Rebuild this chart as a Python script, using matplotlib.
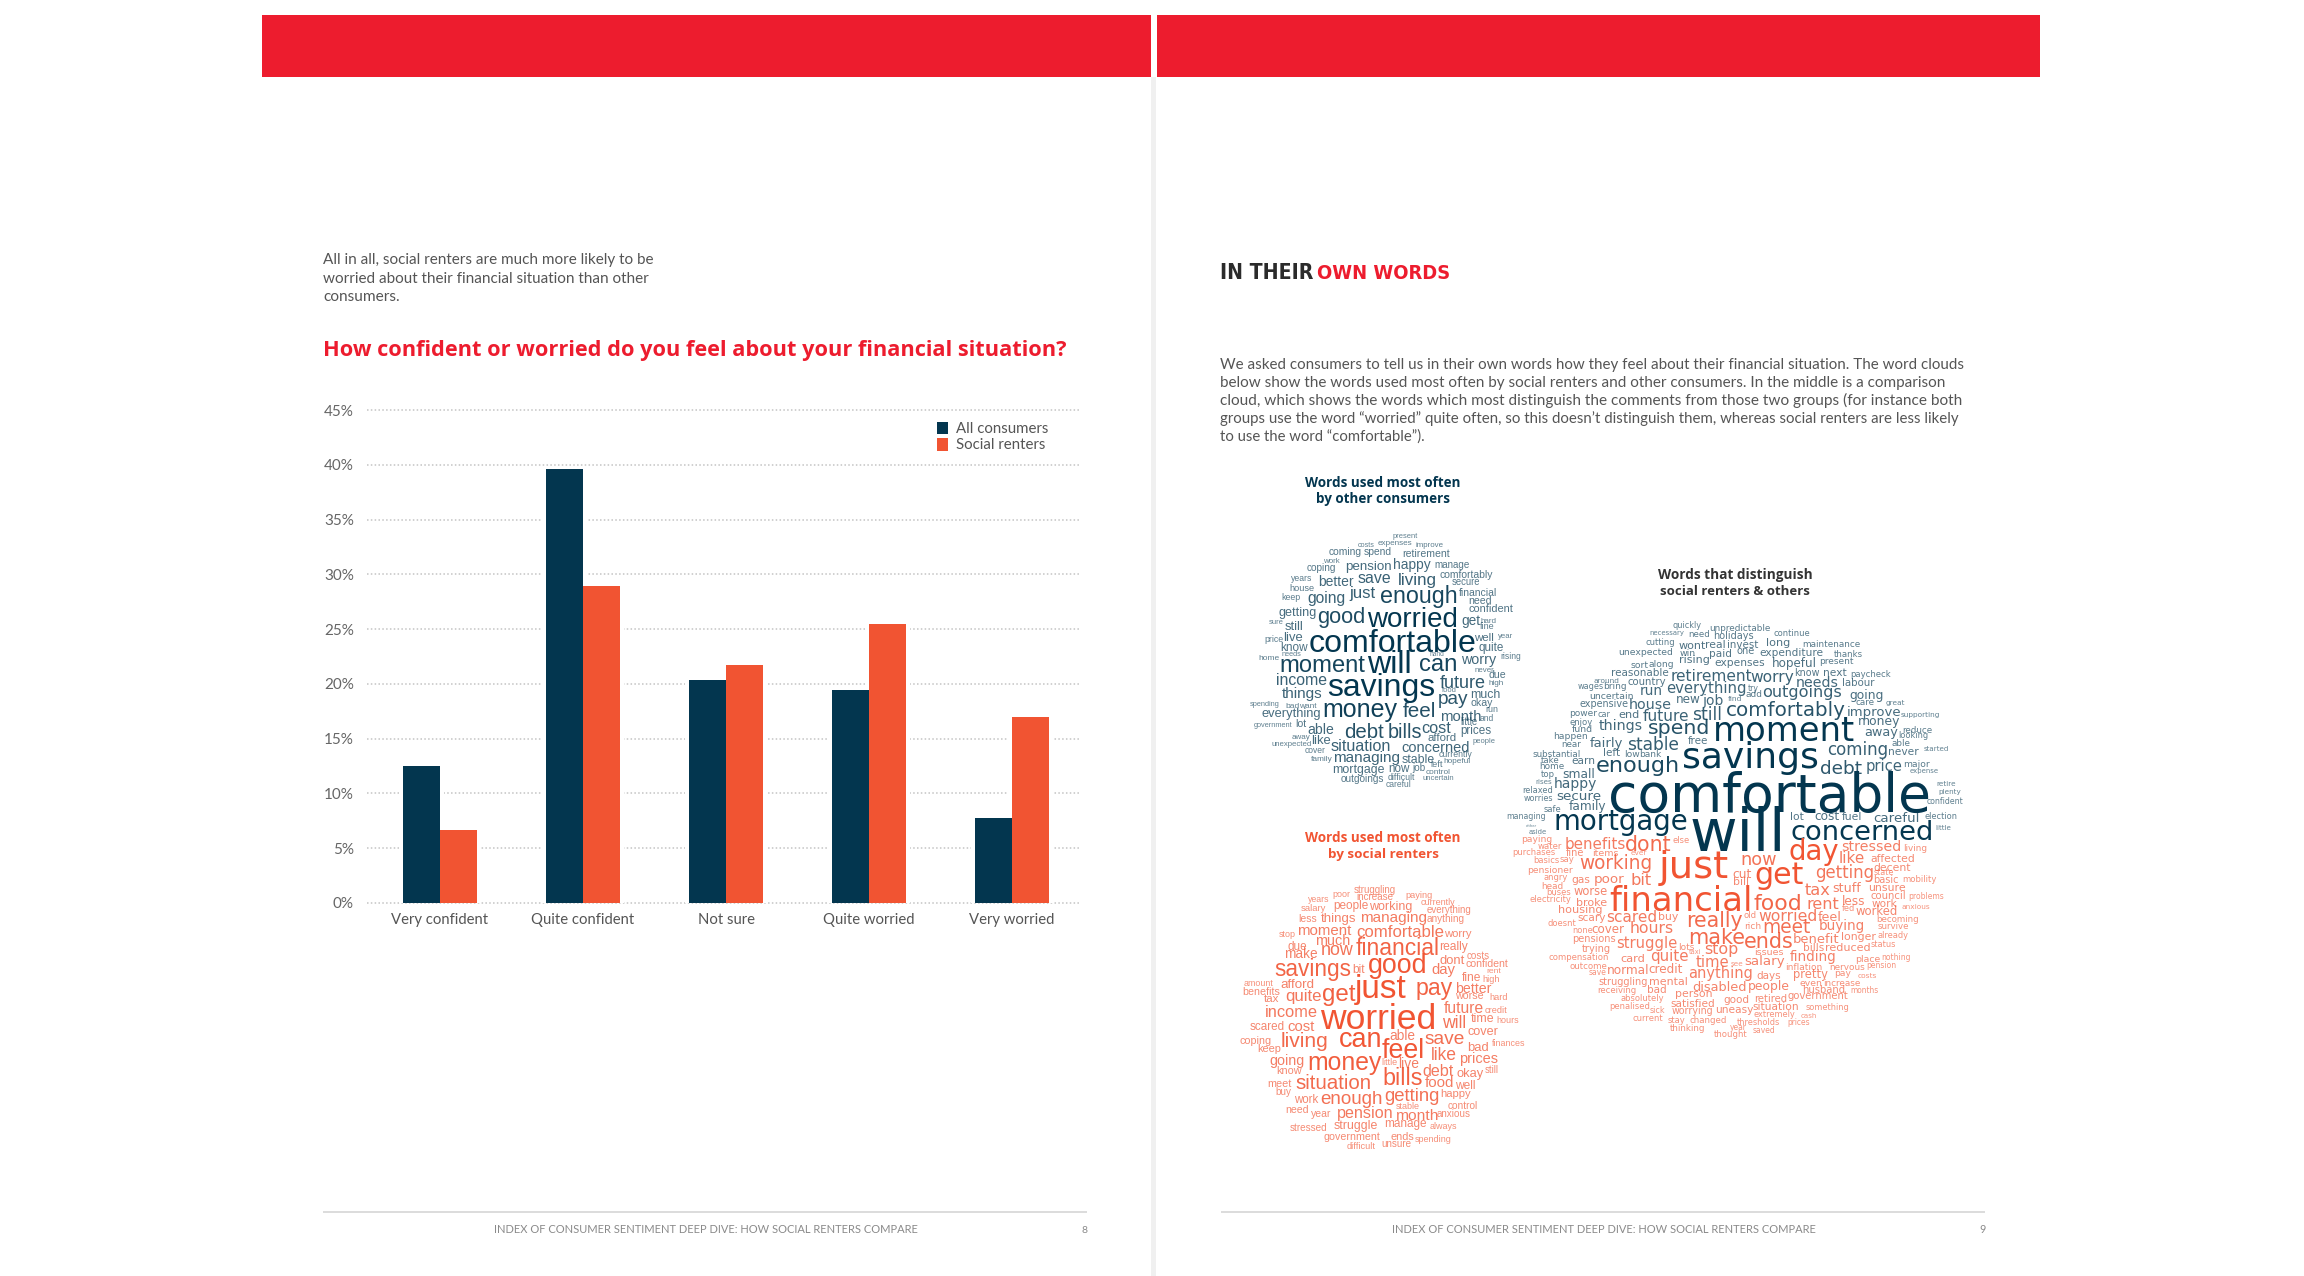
import matplotlib
matplotlib.use("Agg")
import matplotlib.pyplot as plt
from matplotlib.font_manager import FontProperties, fontManager
from matplotlib.patches import Rectangle
from matplotlib.textpath import TextPath
from matplotlib.transforms import ScaledTranslation

# ---- chart data
categories = ["Very confident", "Quite confident", "Not sure", "Quite worried", "Very worried"]
all_consumers = [12.5, 39.6, 20.4, 19.4, 7.8]
social_renters = [6.7, 28.9, 21.7, 25.5, 17.0]
y_ticks = [0, 5, 10, 15, 20, 25, 30, 35, 40, 45]

# ---- word clouds, words first, then where each one sits: (left, right, baseline)
other_words = [
    "present", "costs", "expenses", "improve", "coming", "spend", "retirement", "work", "pension", "happy",
    "manage", "coping", "comfortably", "years", "better", "save", "living", "secure", "house", "just",
    "enough", "financial", "keep", "going", "need", "confident", "getting", "good", "worried", "get",
    "hard", "fine", "sure", "still", "price", "live", "comfortable", "well", "year", "know",
    "quite", "needs", "home", "hand", "rising", "moment", "will", "can", "worry", "never",
    "income", "savings", "future", "due", "high", "things", "pay", "much", "food", "okay",
    "spending", "bad", "want", "run", "everything", "money", "feel", "month", "and", "lot",
    "government", "cost", "little", "bills", "debt", "able", "prices", "away", "afford", "like",
    "people", "unexpected", "situation", "concerned", "cover", "stable", "currently", "family", "managing", "hopeful",
    "mortgage", "now", "job", "left", "control", "outgoings", "difficult", "uncertain", "careful",
]
other_layout = [
    (487, 560, 84), (383, 432, 112), (443, 545, 106), (556, 638, 112), (296, 392, 136), (402, 483, 136), (518, 657, 142), (280, 330, 160), (346, 482, 180), (490, 600, 178),
    (612, 716, 174), (230, 315, 182), (628, 787, 204), (183, 245, 214), (265, 368, 228), (383, 480, 220), (505, 615, 224), (664, 748, 226), (178, 250, 242), (358, 437, 265),
    (450, 675, 278), (686, 798, 258), (154, 208, 270), (233, 343, 280), (714, 780, 282), (716, 848, 306), (146, 256, 318), (262, 400, 340), (412, 680, 350), (695, 750, 345),
    (752, 797, 340), (750, 792, 358), (117, 160, 343), (164, 216, 360), (104, 158, 396), (160, 214, 394), (235, 730, 425), (733, 790, 392), (803, 848, 384), (150, 230, 422),
    (745, 818, 423), (154, 212, 438), (85, 145, 450), (598, 640, 438), (810, 868, 446), (148, 400, 485), (410, 538, 490), (567, 675, 484), (692, 797, 463), (733, 790, 487),
    (137, 285, 526), (292, 610, 558), (630, 765, 535), (775, 825, 503), (775, 818, 525), (155, 275, 565), (622, 710, 583), (720, 805, 563), (636, 678, 546), (722, 787, 587),
    (60, 148, 588), (166, 205, 595), (208, 260, 593), (765, 800, 607), (96, 270, 622), (277, 497, 620), (517, 612, 622), (630, 748, 632), (748, 788, 634), (197, 228, 652),
    (70, 185, 650), (575, 662, 668), (690, 738, 646), (472, 568, 685), (342, 458, 685), (232, 308, 672), (692, 782, 672), (185, 240, 688), (592, 675, 692), (243, 297, 702),
    (728, 793, 700), (125, 242, 708), (302, 478, 724), (515, 715, 725), (224, 285, 728), (515, 612, 758), (625, 725, 740), (242, 306, 752), (310, 505, 755), (640, 718, 760),
    (305, 458, 790), (476, 538, 785), (546, 585, 782), (600, 635, 772), (588, 660, 792), (333, 460, 815), (473, 553, 810), (577, 668, 810), (466, 540, 832),
]

social_words = [
    "struggling", "poor", "increase", "paying", "years", "currently", "people", "working", "salary", "everything",
    "things", "managing", "anything", "less", "moment", "comfortable", "worry", "stop", "much", "financial",
    "really", "now", "due", "make", "costs", "savings", "good", "dont", "confident", "day",
    "bit", "rent", "fine", "high", "just", "amount", "afford", "pay", "better", "benefits",
    "get", "quite", "tax", "worse", "hard", "future", "credit", "income", "worried", "cost",
    "scared", "will", "time", "hours", "cover", "living", "can", "save", "able", "coping",
    "feel", "finances", "bad", "keep", "like", "money", "going", "prices", "little", "live",
    "debt", "okay", "still", "know", "bills", "situation", "food", "meet", "well", "buy",
    "getting", "happy", "enough", "work", "need", "stable", "control", "pension", "year", "month",
    "anxious", "struggle", "manage", "stressed", "always", "government", "ends", "spending", "unsure", "difficult",
]
social_layout = [
    (370, 495, 218), (308, 360, 230), (378, 487, 240), (527, 605, 235), (233, 296, 246), (572, 675, 255), (310, 412, 268), (418, 545, 270), (213, 288, 273), (590, 722, 280),
    (272, 376, 305), (390, 585, 305), (590, 700, 307), (206, 258, 305), (200, 360, 344), (380, 638, 352), (642, 725, 350), (147, 196, 350), (255, 355, 375), (376, 622, 405),
    (628, 712, 390), (273, 368, 405), (172, 228, 390), (162, 257, 415), (710, 777, 417), (132, 358, 468), (415, 585, 458), (628, 702, 432), (705, 832, 440), (605, 675, 462),
    (368, 403, 460), (770, 812, 458), (696, 752, 482), (757, 805, 486), (373, 530, 535), (42, 130, 497), (152, 250, 505), (558, 665, 525), (675, 780, 518), (38, 146, 525),
    (275, 372, 543), (165, 270, 543), (100, 145, 546), (676, 760, 538), (777, 828, 541), (640, 757, 578), (765, 832, 578), (105, 258, 590), (270, 612, 628), (172, 252, 634),
    (60, 162, 630), (635, 705, 625), (722, 790, 606), (800, 865, 610), (712, 802, 645), (152, 287, 680), (328, 450, 682), (583, 700, 672), (478, 552, 660), (30, 122, 672),
    (455, 578, 715), (785, 883, 679), (710, 770, 692), (82, 150, 697), (602, 675, 720), (232, 450, 750), (118, 218, 735), (688, 800, 730), (455, 500, 735), (505, 563, 745),
    (578, 670, 768), (680, 760, 772), (763, 802, 760), (138, 212, 763), (458, 572, 795), (197, 420, 808), (585, 670, 800), (112, 182, 800), (676, 735, 806), (136, 182, 824),
    (462, 623, 842), (632, 722, 832), (270, 452, 852), (192, 265, 850), (166, 232, 880), (498, 568, 868), (652, 740, 866), (322, 485, 895), (242, 302, 892), (497, 620, 900),
    (620, 720, 892), (312, 442, 928), (463, 586, 922), (180, 290, 932), (598, 678, 928), (280, 447, 960), (482, 550, 960), (553, 660, 966), (453, 540, 980), (350, 435, 988),
]

middle_blue_top = [
    "quickly", "unpredictable", "necessary", "need", "holidays", "continue", "cutting", "long", "wont", "real",
    "invest", "maintenance", "unexpected", "win", "paid", "one", "expenditure", "thanks", "rising", "sort",
    "along", "expenses", "hopeful", "present", "reasonable", "retirement", "worry", "know", "next", "paycheck",
    "around", "country", "needs", "labour", "wages", "bring", "run", "everything", "outgoings", "try",
    "add", "find", "uncertain", "going", "new", "job", "house", "expensive", "care", "great",
    "comfortably", "improve", "power", "car", "end", "future", "still", "supporting", "enjoy", "money",
    "things", "spend", "moment", "fund", "away", "reduce", "looking", "happen", "fairly", "stable",
    "free", "able", "near", "started", "savings", "coming", "never", "substantial", "left", "low",
    "bank", "take", "earn", "enough", "debt", "price", "major", "home", "expense", "top",
    "small", "rises", "happy", "retire", "relaxed", "plenty", "secure", "worries", "comfortable", "confident",
    "safe", "family", "lot", "cost", "fuel", "careful", "election",
]
middle_blue_top_layout = [
    (487, 572, 205), (598, 778, 212), (418, 520, 225), (535, 595, 232), (610, 728, 236), (792, 898, 228), (407, 492, 254), (768, 835, 258), (505, 585, 268), (585, 640, 265),
    (652, 742, 265), (877, 1048, 260), (325, 485, 286), (508, 553, 288), (598, 660, 290), (680, 732, 283), (747, 932, 287), (972, 1058, 292), (508, 594, 310), (363, 415, 323),
    (415, 487, 322), (614, 762, 318), (787, 915, 322), (928, 1028, 312), (303, 470, 347), (482, 722, 362), (722, 850, 365), (852, 925, 348), (938, 1005, 348), (1022, 1142, 352),
    (250, 325, 368), (352, 465, 374), (858, 980, 380), (995, 1090, 378), (202, 278, 388), (280, 345, 388), (390, 452, 405), (468, 702, 400), (755, 990, 412), (714, 745, 392),
    (705, 752, 412), (652, 692, 422), (238, 368, 418), (1017, 1115, 416), (498, 568, 430), (578, 640, 434), (357, 480, 446), (208, 352, 440), (1038, 1092, 436), (1126, 1183, 434),
    (647, 1000, 468), (1010, 1167, 468), (177, 258, 468), (263, 300, 470), (326, 385, 473), (397, 533, 482), (545, 628, 480), (1172, 1287, 472), (178, 245, 494), (1044, 1167, 494),
    (266, 395, 510), (415, 593, 522), (610, 1025, 543), (185, 245, 516), (1062, 1160, 528), (1178, 1265, 520), (1165, 1250, 535), (128, 226, 538), (238, 335, 562), (350, 500, 570),
    (532, 590, 553), (1143, 1197, 558), (155, 212, 560), (1242, 1315, 574), (515, 915, 625), (950, 1127, 584), (1133, 1222, 586), (68, 210, 590), (278, 325, 588), (342, 385, 590),
    (388, 452, 590), (92, 146, 610), (183, 250, 612), (257, 500, 635), (930, 1052, 642), (1068, 1172, 634), (1178, 1255, 620), (88, 160, 628), (1200, 1285, 640), (92, 132, 650),
    (157, 250, 655), (75, 122, 672), (132, 257, 685), (1278, 1333, 678), (38, 125, 698), (1284, 1350, 703), (140, 270, 720), (40, 126, 722), (293, 1243, 755), (1250, 1358, 733),
    (102, 152, 755), (175, 285, 750), (840, 877, 780), (912, 985, 780), (995, 1052, 780), (1090, 1222, 785), (1243, 1338, 778),
]

middle_blue_low = ["managing", "little", "either", "aside", "mortgage", "will", "concerned"]
middle_blue_low_layout = [
    (-12, 102, 28), (1275, 1320, 60), (47, 80, 50), (57, 110, 72), (132, 525, 60), (540, 805, 122), (843, 1260, 90),
]

middle_red = [
    "paying", "else", "benefits", "dont", "day", "stressed", "living", "water", "fine", "items",
    "ever", "purchases", "just", "affected", "basics", "say", "working", "now", "like", "decent",
    "pensioner", "getting", "state", "cut", "angry", "gas", "poor", "bit", "get", "basic",
    "mobility", "bill", "head", "tax", "stuff", "unsure", "buses", "worse", "financial", "council",
    "problems", "electricity", "less", "food", "broke", "rent", "work", "fed", "anxious", "housing",
    "worked", "scary", "scared", "buy", "really", "old", "worried", "feel", "becoming", "doesnt",
    "none", "cover", "hours", "rich", "meet", "buying", "survive", "pensions", "make", "longer",
    "already", "benefit", "struggle", "ends", "lots", "stop", "trying", "issues", "bills", "reduced",
    "status", "taxi", "compensation", "card", "quite", "finding", "place", "nothing", "time", "salary",
    "see", "inflation", "outcome", "nervous", "pension", "save", "normal", "credit", "pretty", "anything",
    "pay", "costs", "days", "struggling", "mental", "even", "increase", "disabled", "people", "bad",
    "husband", "receiving", "months", "person", "government", "absolutely", "good", "retired", "situation", "satisfied",
    "penalised", "something", "uneasy", "worrying", "sick", "extremely", "cash", "current", "stay", "changed",
    "thresholds", "prices", "thinking", "year", "saved", "thought",
]
middle_red_layout = [
    (32, 120, 95), (487, 535, 100), (163, 340, 118), (345, 480, 122), (835, 980, 150), (995, 1168, 122), (1178, 1245, 122), (83, 155, 118), (167, 220, 138), (245, 320, 138),
    (362, 410, 135), (8, 133, 136), (445, 655, 205), (1080, 1208, 155), (70, 145, 160), (150, 192, 155), (207, 420, 178), (690, 792, 165), (987, 1058, 160), (1090, 1198, 182),
    (52, 186, 190), (915, 1085, 205), (1092, 1150, 195), (667, 722, 205), (100, 170, 210), (185, 238, 220), (250, 338, 218), (362, 420, 226), (732, 873, 222), (1090, 1162, 220),
    (1178, 1278, 215), (668, 710, 225), (93, 155, 238), (885, 960, 255), (968, 1052, 247), (1073, 1182, 242), (110, 180, 254), (190, 290, 255), (298, 718, 302), (1082, 1185, 268),
    (1195, 1298, 268), (60, 183, 276), (995, 1060, 285), (732, 870, 300), (197, 285, 288), (890, 982, 297), (1085, 1160, 292), (995, 1032, 302), (1174, 1258, 298), (143, 270, 310),
    (1038, 1160, 316), (203, 285, 332), (290, 435, 335), (445, 502, 330), (527, 690, 350), (700, 735, 324), (745, 915, 332), (922, 988, 332), (1098, 1222, 335), (113, 197, 348),
    (188, 245, 368), (245, 342, 370), (360, 485, 370), (702, 748, 358), (756, 895, 370), (927, 1058, 360), (1104, 1196, 358), (186, 312, 397), (533, 695, 402), (992, 1093, 390),
    (1102, 1192, 383), (848, 982, 400), (318, 495, 415), (702, 845, 415), (503, 548, 420), (582, 680, 432), (214, 298, 426), (732, 816, 436), (878, 936, 422), (945, 1075, 424),
    (1082, 1156, 412), (535, 570, 433), (115, 293, 450), (332, 402, 456), (420, 530, 452), (838, 973, 452), (1034, 1106, 456), (1115, 1198, 450), (558, 655, 472), (702, 820, 466),
    (662, 698, 468), (825, 930, 480), (177, 288, 478), (958, 1062, 480), (1068, 1154, 474), (237, 288, 494), (292, 413, 492), (415, 515, 490), (848, 948, 505), (535, 722, 505),
    (973, 1020, 498), (1044, 1100, 504), (740, 810, 508), (265, 408, 524), (418, 528, 524), (868, 932, 527), (938, 1046, 527), (548, 705, 542), (714, 835, 540), (410, 463, 548),
    (876, 1000, 550), (262, 375, 548), (1020, 1102, 550), (494, 600, 560), (832, 1013, 568), (332, 460, 574), (640, 713, 580), (732, 826, 576), (726, 860, 600), (482, 610, 592),
    (298, 415, 596), (888, 1016, 600), (615, 726, 610), (484, 605, 613), (420, 465, 608), (732, 855, 622), (873, 920, 625), (367, 455, 632), (473, 524, 640), (540, 648, 640),
    (680, 808, 644), (832, 897, 644), (480, 584, 664), (658, 708, 660), (728, 793, 668), (611, 710, 682),
]

NAVY = "#03364f"
ORANGE = "#f15432"
RED = "#ed1c2e"
BODY = "#555555"
W, H = 2304, 1276

fig = plt.figure(figsize=(W / 100, H / 100), dpi=100, facecolor="white")
page = fig.add_axes([0, 0, 1, 1])
page.set_xlim(0, W)
page.set_ylim(H, 0)
page.axis("off")


def fit_size(s, width_px, prop):
    # font size in points that makes s come out width_px wide
    w = TextPath((0, 0), s, size=100, prop=prop).get_extents().width
    return 100 * width_px * 0.72 / w


def put(s, x0, x1, y, color, family="Lato", weight="normal", alpha=1.0, prop=None):
    if prop is None:
        prop = FontProperties(family=family, weight=weight)
    fs = fit_size(s, x1 - x0, prop)
    page.text(x0, y, s, fontproperties=prop, fontsize=fs, color=color, alpha=alpha, va="baseline", ha="left")


def cloud(words, layout, ox, oy, color, family):
    # layout is in crop coordinates at 3x, ox/oy is the crop origin
    prop = FontProperties(family=family)
    for word, (a, b, base) in zip(words, layout, strict=True):
        w = (b - a) / 3
        fs = fit_size(word, w, prop)
        alpha = min(1.0, 0.62 + 0.38 * max(0, fs - 5) / 15)
        page.text(ox + a / 3, oy + base / 3, word, fontproperties=prop, fontsize=fs, color=color,
                  alpha=alpha, va="baseline", ha="left")


def condensed_font():
    # the page heading is a tall condensed face, take one if the machine has it
    found = [f for f in fontManager.ttflist
             if any(k in (f.name + f.fname).lower() for k in ("condensed", "narrow"))]
    found.sort(key=lambda f: 0 if str(f.weight) in ("700", "bold") or "bold" in f.fname.lower() else 1)
    if found:
        return FontProperties(fname=found[0].fname)
    return FontProperties(family="Liberation Sans", weight="bold")


# page furniture
page.add_patch(Rectangle((261.5, 15), 889, 62, color=RED, lw=0))
page.add_patch(Rectangle((1157, 15), 883, 62, color=RED, lw=0))
page.add_patch(Rectangle((1151, 77), 5, H - 77, color="#f0f0f0", lw=0))
page.plot([323, 1087], [1212, 1212], color="#d9d9d9", lw=1.3, solid_capstyle="butt")
page.plot([1221, 1985], [1212, 1212], color="#d9d9d9", lw=1.3, solid_capstyle="butt")

# left page text
put("All in all, social renters are much more likely to be", 323, 653, 264, BODY)
put("worried about their financial situation than other", 323, 647, 283, BODY)
put("consumers.", 323, 398, 301, BODY)
put("How confident or worried do you feel about your financial situation?", 323, 1065, 356, RED,
    family="Open Sans", weight="bold")

# right page text
head_font = condensed_font()
put("IN THEIR", 1220, 1311, 279, "#2b2b2b", prop=head_font)
put("OWN WORDS", 1317, 1448, 279, RED, prop=head_font)
put("We asked consumers to tell us in their own words how they feel about their financial situation. The word clouds", 1220, 1959, 369, BODY)
put("below show the words used most often by social renters and other consumers. In the middle is a comparison", 1220, 1945, 387, BODY)
put("cloud, which shows the words which most distinguish the comments from those two groups (for instance both", 1220, 1959, 405, BODY)
put("groups use the word “worried” quite often, so this doesn’t distinguish them, whereas social renters are less likely", 1220, 1960, 423, BODY)
put("to use the word “comfortable”).", 1220, 1424, 441, BODY)

put("Words used most often", 1305, 1460, 487, NAVY, family="Open Sans", weight="bold")
put("by other consumers", 1316, 1449, 503, NAVY, family="Open Sans", weight="bold")
put("Words used most often", 1305, 1460, 842, ORANGE, family="Open Sans", weight="bold")
put("by social renters", 1328, 1437, 858, ORANGE, family="Open Sans", weight="bold")
put("Words that distinguish", 1658, 1811, 579, "#333333", family="Open Sans", weight="bold")
put("social renters & others", 1660, 1809, 595, "#333333", family="Open Sans", weight="bold")

# footers
for x0, x1, num, nx0, nx1 in [(494, 918, "8", 1082, 1087), (1392, 1815, "9", 1979, 1984)]:
    put("INDEX OF CONSUMER SENTIMENT DEEP DIVE: HOW SOCIAL RENTERS COMPARE", x0, x1, 1233, "#8a8a8a")
    put(num, nx0, nx1, 1233, "#8a8a8a")

# word clouds
cloud(other_words, other_layout, 1230, 510, NAVY, "Liberation Sans")
cloud(social_words, social_layout, 1230, 820, ORANGE, "Liberation Sans")
cloud(middle_blue_top, middle_blue_top_layout, 1510, 560, NAVY, "DejaVu Sans")
cloud(middle_blue_low, middle_blue_low_layout, 1510, 810, NAVY, "DejaVu Sans")
cloud(middle_red, middle_red_layout, 1510, 810, ORANGE, "DejaVu Sans")

# bar chart, axes box follows the plot area in the page
left, right, top, bottom = 367, 1079, 410, 903
ax = fig.add_axes([left / W, 1 - bottom / H, (right - left) / W, (bottom - top) / H])
ax.patch.set_alpha(0)
x = list(range(len(categories)))
width = 37.3 / 143
ax.set_xlim((left - 440) / 143, (right - 440) / 143)
ax.set_ylim(0, 45)
ax.set_yticks(y_ticks)
ax.set_yticklabels([f"{v}%" for v in y_ticks], fontsize=11, color="#666666", family="Lato")
ax.set_xticks(x)
ax.set_xticklabels(categories, fontsize=10.7, color="#555555", family="Lato")
# labels in the source sit a little left of the group centres
for lab in ax.get_xticklabels():
    lab.set_transform(lab.get_transform() + ScaledTranslation(-4 / 100, 0, fig.dpi_scale_trans))
ax.tick_params(length=0, axis="y", pad=9.5)
ax.tick_params(length=0, axis="x", pad=7.5)
ax.yaxis.grid(True, linestyle=(0, (1, 1.5)), color="#c4c4c4", lw=1.1, clip_on=False)
ax.xaxis.grid(False)
ax.set_axisbelow(True)
for s in ax.spines.values():
    s.set_visible(False)

# white halo that breaks the dotted lines next to the bars
ax.bar([i - width / 2 for i in x], all_consumers, width + 0.05, color="white", zorder=2)
ax.bar([i + width / 2 for i in x], social_renters, width + 0.05, color="white", zorder=2)
ax.bar([i - width / 2 for i in x], all_consumers, width, color=NAVY, label="All consumers", zorder=3)
ax.bar([i + width / 2 for i in x], social_renters, width, color=ORANGE, label="Social renters", zorder=3)

handles, labels = ax.get_legend_handles_labels()
ax.legend(handles[-2:], labels[-2:], loc="upper left", bbox_to_anchor=(923 / W, 1 - 408 / H),
          bbox_transform=fig.transFigure, frameon=False, prop={"family": "Lato", "size": 10.8},
          labelcolor="#555555", handlelength=0.75, handleheight=0.95, handletextpad=0.55, labelspacing=0.1)

fig.savefig("out.png", dpi=100, facecolor="white")
